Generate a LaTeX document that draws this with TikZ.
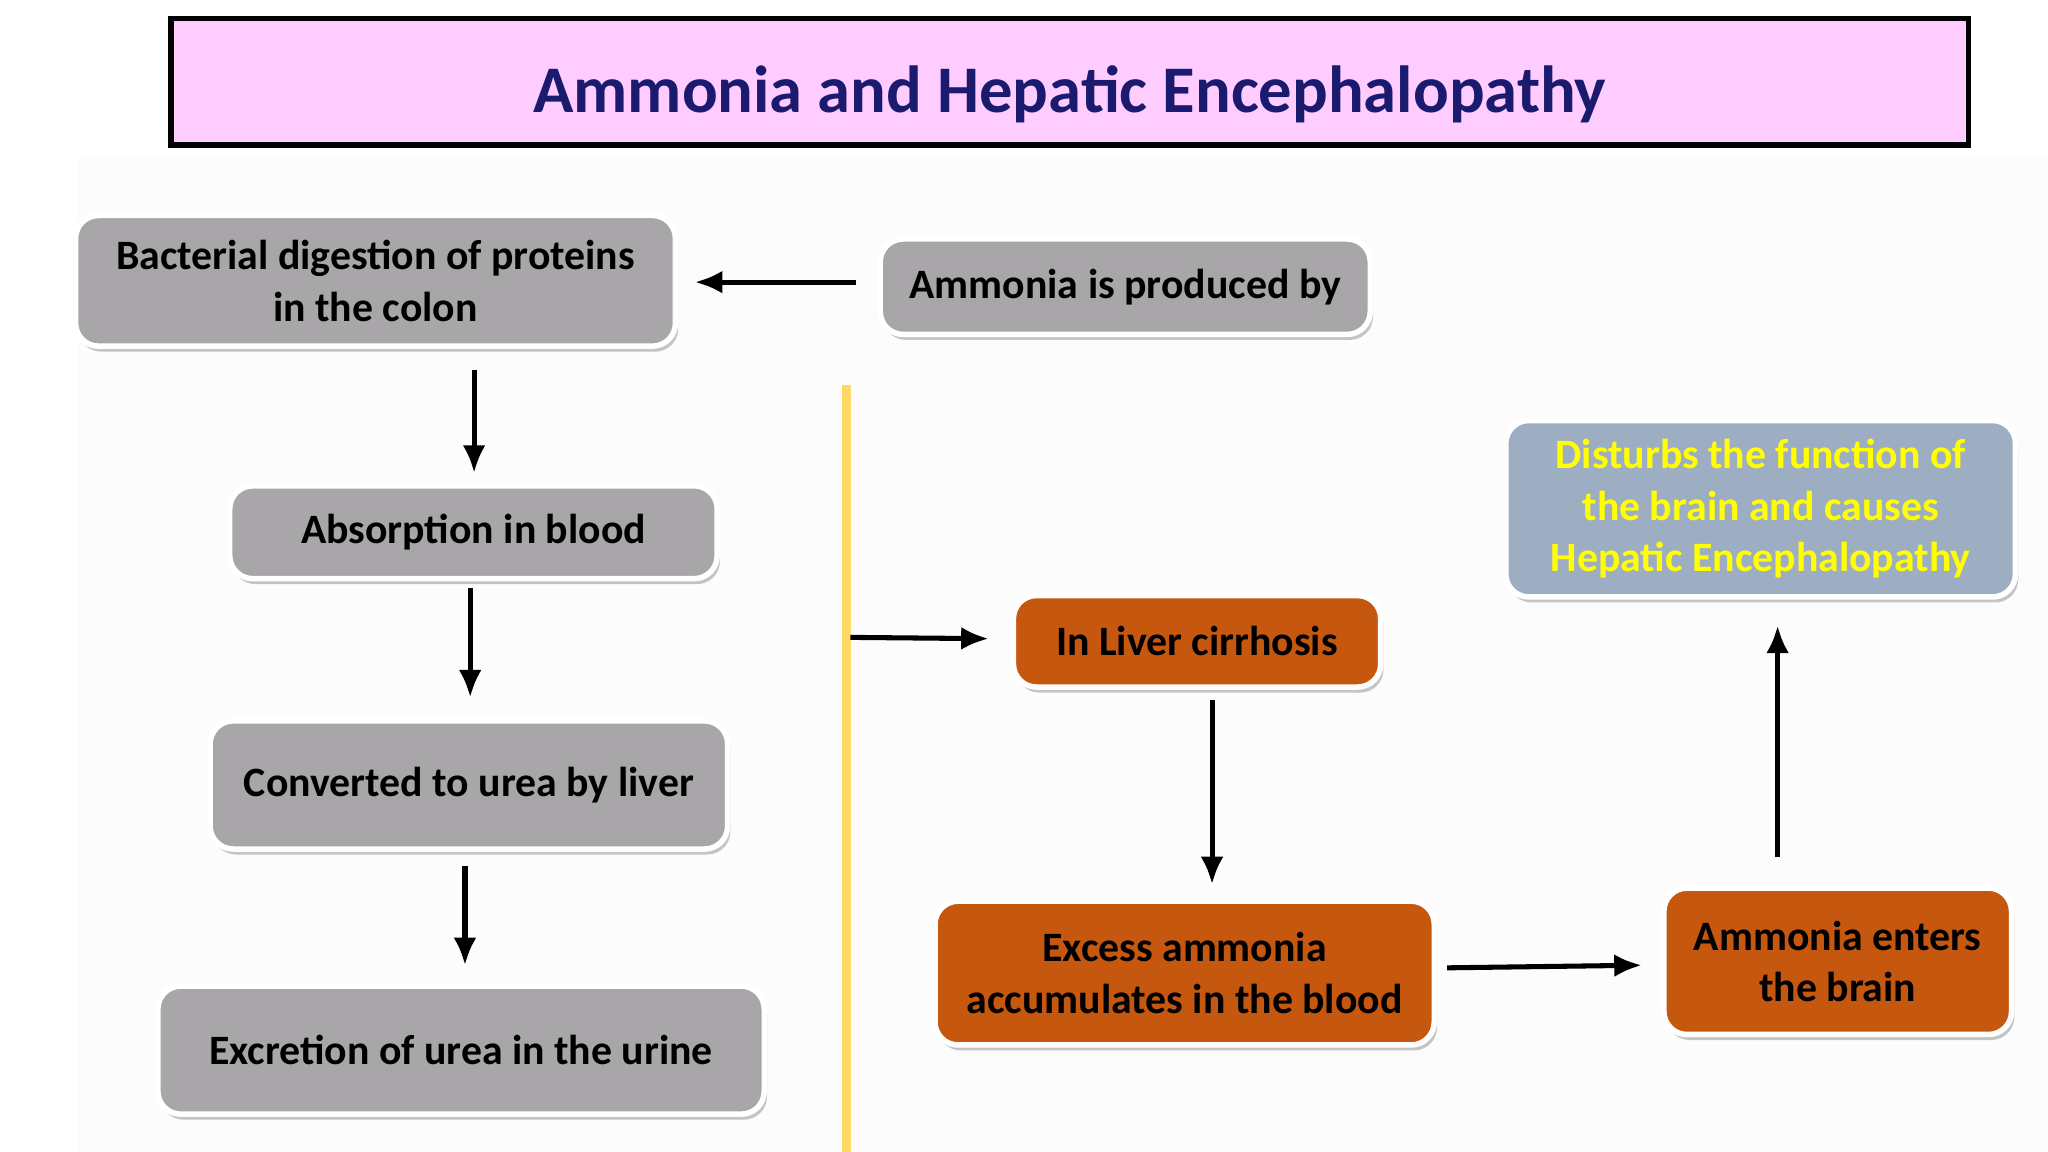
\documentclass[tikz,border=0pt]{standalone}
\usepackage{fontspec}
\setmainfont{Carlito}
\usetikzlibrary{arrows.meta,shadows}
\definecolor{pinkbg}{HTML}{FFCCFF}
\definecolor{navy}{HTML}{1A1A6E}
\definecolor{boxgray}{HTML}{A8A6A8}
\definecolor{boxorange}{HTML}{C5570F}
\definecolor{boxblue}{HTML}{9DAEC2}
\definecolor{ytext}{HTML}{FFFF00}
\definecolor{yline}{HTML}{FFD966}
\begin{document}
\begin{tikzpicture}[x=0.01cm,y=-0.01cm,
 box/.style={draw=white,line width=1.2pt,rounded corners=5pt,minimum height=#1,align=center,
   font=\fontsize{9.1}{11.2}\selectfont\bfseries,text=black,inner sep=0pt,
   drop shadow={shadow xshift=0.6pt,shadow yshift=-1.2pt,opacity=0.45}},
 gbox/.style={box=#1,fill=boxgray},
 obox/.style={box=#1,fill=boxorange},
 arr/.style={-{Latex[length=6pt,width=5pt]},line width=1.1pt}]
\useasboundingbox (0,0) rectangle (1568,882);
\fill[white] (0,0) rectangle (1568,882);
\fill[black!1] (60,120) rectangle (1568,882);
\path[draw=black,line width=1.2pt,fill=pinkbg] (131,14) rectangle (1507,111);
\node[text=navy,font=\fontsize{14.5}{17}\selectfont\bfseries] (tt) at (819,72) {Ammonia and Hepatic Encephalopathy};
\draw[yline,line width=1.8pt] (648,295) -- (648,882);
\node[gbox=1cm,minimum width=4.59cm] (bact) at (287.5,215) {Bacterial digestion of proteins\\in the colon};
\node[gbox=0.73cm,minimum width=3.75cm] (prod) at (861.5,219.5) {Ammonia is produced by};
\node[gbox=0.71cm,minimum width=3.73cm] (abs) at (362.5,407.5) {Absorption in blood};
\node[gbox=0.98cm,minimum width=3.96cm] (conv) at (359,601) {Converted to urea by liver};
\node[gbox=0.98cm,minimum width=4.64cm] (excr) at (353,804) {Excretion of urea in the urine};
\node[obox=0.7cm,minimum width=2.81cm] (liver) at (916.5,491) {In Liver cirrhosis};
\node[obox=1.1cm,minimum width=3.82cm] (excess) at (907,745) {Excess ammonia\\accumulates in the blood};
\node[obox=1.12cm,minimum width=2.66cm] (enter) at (1407,736) {Ammonia enters\\the brain};
\node[box=1.35cm,fill=boxblue,minimum width=3.9cm,text=ytext] (dist) at (1348,389.5) {Disturbs the function of\\the brain and causes\\Hepatic Encephalopathy};
\coordinate (a1) at (655,216); \coordinate (a1e) at (532,216);
\coordinate (a2) at (363,283); \coordinate (a2e) at (363,362);
\coordinate (a3) at (360,450); \coordinate (a3e) at (360,534);
\coordinate (a4) at (356,663); \coordinate (a4e) at (356,739);
\coordinate (a5) at (651,488); \coordinate (a5e) at (757,489);
\coordinate (a6) at (928,536); \coordinate (a6e) at (928,677);
\coordinate (a7) at (1108,741); \coordinate (a7e) at (1257,739);
\coordinate (a8) at (1361,656); \coordinate (a8e) at (1361,479);
\foreach \s in {1,...,8} \draw[arr] (a\s) -- (a\s e);
\end{tikzpicture}
\end{document}
